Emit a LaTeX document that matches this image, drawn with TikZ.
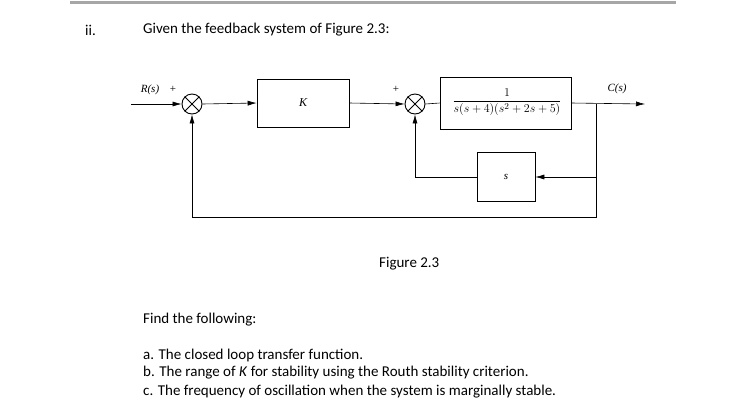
\documentclass[tikz,border=0pt]{standalone}
\usepackage{fontspec}
\setmainfont{Carlito}
\newfontfamily\tms{Liberation Serif}
\usetikzlibrary{arrows.meta}
\begin{document}
\begin{tikzpicture}[x=1pt,y=-1pt,
  blk/.style={draw,line width=0.6pt,inner sep=0},
  sumj/.style={draw,circle,line width=0.9pt,minimum size=20pt,inner sep=0},
  sig/.style={line width=0.6pt,-{Latex[length=9pt,width=5pt]}},
  ln/.style={line width=0.6pt},
  lbl/.style={inner sep=0,font=\tms\fontsize{11}{13}\selectfont},
  txt/.style={anchor=west,inner sep=0,font=\fontsize{15}{18}\selectfont}]
\useasboundingbox (0,0) rectangle (745,413);
\fill[gray!70] (70,1) rectangle (676,4);
\node[txt] (ii) at (85,30) {ii.};
\node[txt] (given) at (143,30) {Given the feedback system of Figure 2.3:};
% diagram
\node[sumj] (s1) at (192,104) {};
\draw[line width=0.9pt] (s1.north west)--(s1.south east) (s1.north east)--(s1.south west);
\node[blk,minimum width=92pt,minimum height=48pt,font=\tms\itshape\fontsize{12}{14}\selectfont] (k) at (303,103) {K};
\node[sumj] (s2) at (415,104) {};
\draw[line width=0.9pt] (s2.north west)--(s2.south east) (s2.north east)--(s2.south west);
\node[blk,minimum width=131pt,minimum height=52pt] (g) at (505.5,103) {};
\node[inner sep=0,font=\fontsize{13}{15}\selectfont] (gt) at (507,102) {$\displaystyle\frac{1}{s(s+4)(s^2+2s+5)}$};
\node[blk,minimum width=58pt,minimum height=49pt,font=\tms\itshape\fontsize{11}{13}\selectfont] (h) at (506,177) {s};
\coordinate (in) at (131,104);
\coordinate (po) at (596,104);
\coordinate (out) at (645,104);
\coordinate (pb) at (596,217);
\coordinate (lb) at (192,217);
\draw[sig] (in)--(s1.west);
\draw[sig] (s1.east)--(k.west);
\draw[sig] (k.east)--(s2.west);
\draw[ln] (s2.east)--(g.west);
\draw[sig] (g.east)--(out);
\draw[sig] (po)--(po|-h.east)--(h.east);
\draw[sig] (h.west)--(s2|-h.west)--(s2.south);
\draw[sig] (po)--(pb)--(lb)--(s1.south);
\node[lbl] (r) at (150,90) {\itshape R(s)};
\node[lbl] (p1) at (173,89) {+};
\node[lbl] (p2) at (396,89) {+};
\node[lbl] (c) at (617,89) {\itshape C(s)};
\node[txt] (fig) at (379,264) {Figure 2.3};
\node[txt] (find) at (143,320) {Find the following:};
\node[txt] (a) at (143,355) {a. The closed loop transfer function.};
\node[txt] (b) at (143,373) {b. The range of \textit{K} for stability using the Routh stability criterion.};
\node[txt] (cc) at (143,392) {c. The frequency of oscillation when the system is marginally stable.};
\end{tikzpicture}
\end{document}
